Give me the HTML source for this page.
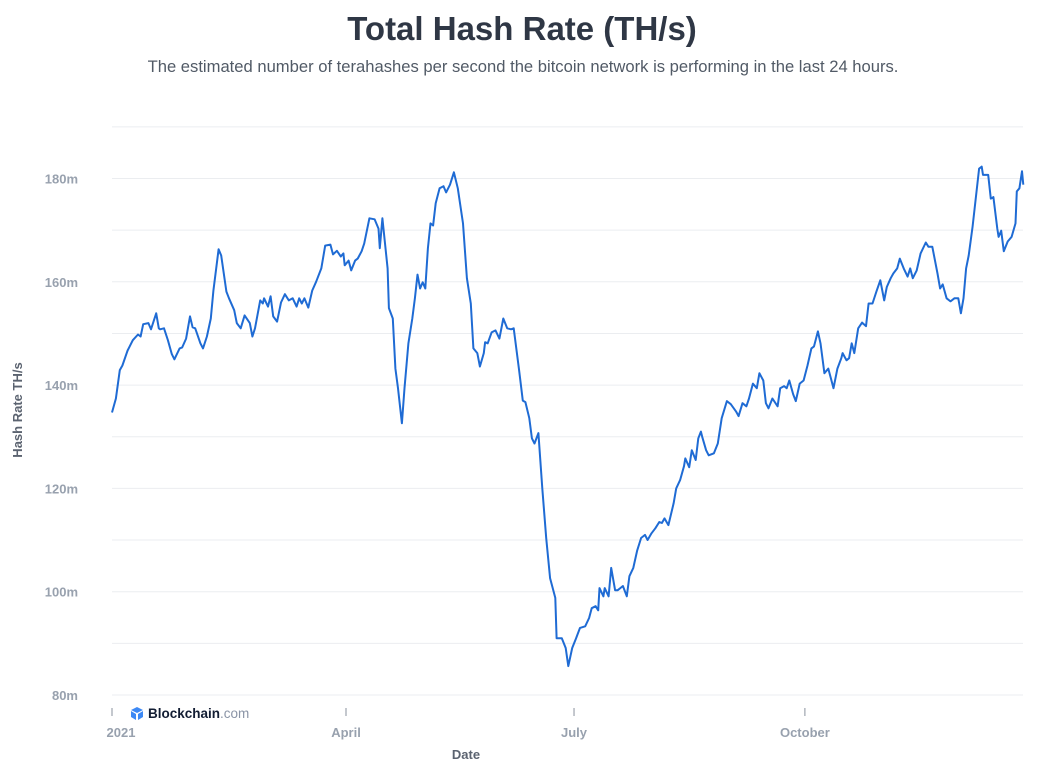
<!DOCTYPE html>
<html><head><meta charset="utf-8"><style>
body{margin:0;background:#fff;width:1041px;height:768px;overflow:hidden;font-family:"Liberation Sans",sans-serif}
</style></head><body>
<svg width="1041" height="768" xmlns="http://www.w3.org/2000/svg">
<text x="522" y="40" text-anchor="middle" font-size="33" font-weight="bold" fill="#2f3745">Total Hash Rate (TH/s)</text>
<text x="523" y="72" text-anchor="middle" font-size="16.6" fill="#515a66">The estimated number of terahashes per second the bitcoin network is performing in the last 24 hours.</text>
<g id="grid"></g><g id="yt"></g><g id="xt"></g>
<text transform="translate(22,410) rotate(-90)" text-anchor="middle" font-size="13" font-weight="bold" fill="#5b6370">Hash Rate TH/s</text>
<text x="466" y="759" text-anchor="middle" font-size="13" font-weight="bold" fill="#5b6370">Date</text>
<g>
<path d="M137 707 l6 3 -6 3 -6 -3z M131 711 l5 3 v6 l-5 -3z M138 714 l5 -3 v6 l-5 3z" fill="#3d89f5"/>
<text x="148" y="718" font-size="13.5" font-weight="bold" fill="#121d33">Blockchain<tspan fill="#8a94a6" font-weight="normal">.com</tspan></text>
</g>
<path id="line" fill="none" stroke="#1f6bd4" stroke-width="2" stroke-linejoin="round"/>
</svg>
<script>
const days=[0,1.5,3,4,6,8,10,11,12,14,15,17,18,18.5,20,21.5,23,24,26,27,28.5,30,31,32,34,35,36.5,38,39,41,42,44,45,47,48,49.5,51,53,54,55,57,58,58.5,60,61,62,63.5,65,66.5,68,69.5,71,72,73,74,75.5,77,78.5,80.5,82,84,85,86.5,88,89,89.5,91,92,93.5,94.5,96,97,99,101,102.5,103,104,106,106.5,108,109,110,111.5,112.5,114,115.5,116.5,117.5,118.5,119.5,120.5,121.5,122.5,123.5,124.5,126,127.5,128.5,130,131.5,133,135,136.5,138,139,140.5,141.5,143,143.5,144.5,146,147.5,149,150.5,152,153.5,154.5,156.5,158,159,160.5,161.5,162.5,164,165.5,167,168.5,170.5,171,173,174.5,175.5,177,178.5,180,182,183.5,184.5,186,187,187.5,189,189.5,191,192,193.5,194.5,195.5,196.5,198,199,200.5,202,203.5,205,206,207.5,209,210.5,211.5,212.5,214,216,217,218.5,220,220.5,222,223,224.5,225.5,226.5,227,228.5,229.5,231.5,233,234.5,236.5,238,240,241,242.5,244,245,246.5,248,249,250.5,251.5,252.5,254,256,257,258.5,259.5,260.5,262,263,264.5,266,267.5,269,270,271.5,272.5,274,275.5,276.5,277.5,279,280.5,281,282.5,283.5,284.5,285.5,287,288.5,290,291,292.5,294,295.5,297,298,299.5,300.5,302,303,304.5,306,307,308,309.5,311,313,314,315.5,317.5,318.5,319.5,321,322.5,324,325.5,326.5,327.5,328.5,329.5,331,332,333.5,334.5,335,337,338,339,340.5,341,342,343,344.5,346,347.5,348,349,350,350.5];
const values=[134.7,137.4,142.9,143.8,146.7,148.7,149.8,149.4,151.8,152,150.8,153.9,151,150.8,151,148.7,146,145,147.1,147.3,149,153.3,151.2,151,148.1,147.1,149.4,152.9,158.3,166.3,165.1,158.1,156.8,154.5,152,151,153.5,152,149.4,151,156.4,155.8,156.8,155.2,157.2,153.3,152.3,156,157.6,156.4,156.8,155.2,156.8,155.8,156.8,155,158.3,160,162.6,167,167.2,165.3,166,164.9,165.5,163.2,164.1,162.2,164.1,164.5,165.9,167.4,172.3,172.1,170.3,166.5,172.3,162.6,154.9,152.9,143.2,139.4,132.6,139.4,148.1,152.9,156.8,161.4,158.7,159.9,158.7,166.5,171.3,170.9,175.2,178.1,178.5,177.3,178.8,181.2,178.1,171.3,160.7,155.8,147.1,146.2,143.6,146.2,148.3,148.1,150.2,150.6,149,152.9,151,150.8,151,143.2,137,136.7,133.6,129.7,128.7,130.7,120,110.4,102.6,98.8,91,91,89.1,85.6,89.1,91,93,93.3,94.9,96.8,97.2,96.4,100.7,99.1,100.7,99.1,104.6,100.3,100.3,100.7,101.1,99.1,103,104.6,108,110.4,111,110,111.3,112.3,113.5,113.3,114.2,112.9,117.1,120,121.6,124.3,125.8,124.1,127.4,125.5,129.7,131,130,127.4,126.4,126.8,128.7,133.6,136.9,136.3,134.9,134,136.5,135.9,137.4,140.3,139.4,142.3,140.9,136.5,135.5,137.4,135.9,139.4,139.8,139.4,140.9,138.2,136.9,140.3,140.9,143.8,147.1,147.5,150.4,148.1,142.3,143.2,141.3,139.4,143.2,145.2,146.2,144.8,145.2,148.1,146.2,151,152.1,151.4,155.8,155.8,158.1,160.3,156.4,159,160.7,161.6,162.6,164.5,162.6,161,162.6,160.7,162.2,165.5,167.6,166.8,166.8,161.6,158.7,159.5,156.8,156.2,156.8,156.8,153.9,156.8,162.6,165.1,170.7,175.2,181.9,182.3,180.7,180.7,176.1,176.4,170.3,168.7,169.9,165.9,167.8,168.7,171.3,177.5,178.1,181.4,178.8];
const yTicks=[80,100,120,140,160,180];
const yTickLabels=["80m","100m","120m","140m","160m","180m"];
const gridVals=[80,90,100,110,120,130,140,150,160,170,180,190];
const xTickDays=[0,90,177.7,266.5];
const xTickLabels=["2021","April","July","October"];
const X=d=>112+d*2.6, Y=v=>695-(v-80)*5.165;
const NS="http://www.w3.org/2000/svg";
function mk(t,a,p){const e=document.createElementNS(NS,t);for(const k in a)e.setAttribute(k,a[k]);p.appendChild(e);return e;}
const g=document.getElementById('grid');
gridVals.forEach(v=>{const l=mk('line',{x1:112,x2:1023,y1:Y(v),y2:Y(v),stroke:'#ebedf0','stroke-width':1},g);

});
const yt=document.getElementById('yt');
yTicks.forEach((v,i)=>{const t=mk('text',{x:78,y:Y(v)+5,'text-anchor':'end','font-size':13,'font-weight':'bold',fill:'#98a1ae'},yt);t.textContent=yTickLabels[i];

});
const xt=document.getElementById('xt');
xTickDays.forEach((d,i)=>{const l=mk('line',{x1:X(d),x2:X(d),y1:708,y2:716,stroke:'#8a929e','stroke-width':1},xt);


const t=mk('text',{x:X(d)+(i===0?9:0),y:737,'text-anchor':'middle','font-size':13,'font-weight':'bold',fill:'#98a1ae'},xt);t.textContent=xTickLabels[i];

});
document.getElementById('line').setAttribute('d',days.map((d,i)=>(i?'L':'M')+X(d).toFixed(1)+' '+Y(values[i]).toFixed(1)).join(' '));
</script>
</body></html>
